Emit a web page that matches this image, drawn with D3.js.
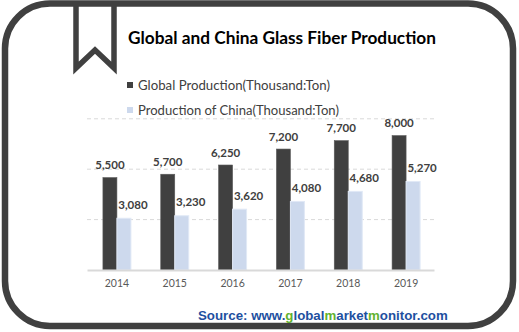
<!DOCTYPE html>
<html>
<head>
<meta charset="utf-8">
<script src="https://cdn.jsdelivr.net/npm/d3@7"></script>
<style>
html,body{margin:0;padding:0;background:#fff;}
svg{display:block;}
</style>
</head>
<body>
<svg id="chart" width="519" height="332"></svg>
<script>
const years = ["2014","2015","2016","2017","2018","2019"];
const globalProduction = [5500, 5700, 6250, 7200, 7700, 8000];
const chinaProduction = [3080, 3230, 3620, 4080, 4680, 5270];
const gridTicks = [3000, 6000, 9000];
const seriesNames = ["Global Production(Thousand:Ton)", "Production of China(Thousand:Ton)"];
const titleText = "Global and China Glass Fiber Production";

const svg = d3.select("#chart");
const dark = "#404040", light = "#cdd9ed";

// scale font size so text spans a target width
function fit(sel, target) {
  const fs = parseFloat(sel.attr("font-size"));
  const w = sel.node().getComputedTextLength();
  if (w > 0) sel.attr("font-size", (fs * target / w).toFixed(2));
  return sel;
}

// frame
svg.append("rect").attr("x",5).attr("y",3.5).attr("width",508).attr("height",322.5)
  .attr("rx",45).attr("ry",45).attr("fill","#fff").attr("stroke",dark).attr("stroke-width",6.5);
// bookmark
svg.append("path").attr("d","M76,3 V68 L95,50 L114,68 V3")
  .attr("fill","none").attr("stroke",dark).attr("stroke-width",5.5).attr("stroke-linejoin","miter");

// title
const title = svg.append("text").attr("x",282).attr("y",44).attr("text-anchor","middle")
  .attr("font-family","Lato").attr("font-weight","bold").attr("font-size",16.5)
  .attr("fill","#000").text(titleText);
fit(title, 308);

// legend
const legendColors = [dark, light];
const legendWidths = [192, 201];
seriesNames.forEach((n,i)=>{
  const yy = 85 + i*25;
  svg.append("rect").attr("x",127).attr("y",yy-3).attr("width",6).attr("height",6).attr("fill",legendColors[i]);
  const t = svg.append("text").attr("x",138).attr("y",yy+4.5).attr("font-family","Lato").attr("font-size",12.5)
    .attr("fill","#404040").text(n);
  fit(t, legendWidths[i]);
});

// scales
const x = d3.scaleBand().domain(years).range([87,434]);
const y = d3.scaleLinear().domain([0,9000]).range([270,118.8]);
const bw = 14;

// gridlines
svg.append("g").selectAll("line").data(gridTicks).join("line")
  .attr("x1",87).attr("x2",434).attr("y1",d=>y(d)).attr("y2",d=>y(d))
  .attr("stroke","#d9d9d9").attr("stroke-width",1).attr("stroke-dasharray","4,3");

// bars
const cx = d => x(d) + x.bandwidth()/2 + 1;
svg.append("g").selectAll("rect").data(years).join("rect")
  .attr("x",(d)=>cx(d)-bw).attr("width",bw)
  .attr("y",(d,i)=>y(globalProduction[i])).attr("height",(d,i)=>y(0)-y(globalProduction[i]))
  .attr("fill",dark).attr("stroke","#5a5a5a").attr("stroke-width",0.6);
svg.append("g").selectAll("rect").data(years).join("rect")
  .attr("x",(d)=>cx(d)).attr("width",bw)
  .attr("y",(d,i)=>y(chinaProduction[i])).attr("height",(d,i)=>y(0)-y(chinaProduction[i]))
  .attr("fill",light).attr("stroke","#e1e9f6").attr("stroke-width",1);

// baseline axis
const axis = d3.axisBottom(x).tickSize(0).tickPadding(10);
const ag = svg.append("g").attr("transform","translate(0,270)").call(axis);
ag.select(".domain").attr("stroke","#d9d9d9").attr("stroke-width",2);
ag.selectAll("text").attr("font-family","Lato").attr("font-size",10.5).attr("fill","#595959")
  .attr("dx",1);

// value labels
const fmt = d3.format(",");
svg.append("g").selectAll("text").data(years).join("text")
  .attr("x",d=>cx(d)-bw/2).attr("y",(d,i)=>y(globalProduction[i])-8.5)
  .attr("text-anchor","middle").attr("font-family","Lato").attr("font-weight","bold")
  .attr("font-size",11.5).attr("fill","#404040").text((d,i)=>fmt(globalProduction[i]));
svg.append("g").selectAll("text").data(years).join("text")
  .attr("x",d=>cx(d)+bw/2+9).attr("y",(d,i)=>y(chinaProduction[i])-9.5)
  .attr("text-anchor","middle").attr("font-family","Lato").attr("font-weight","bold")
  .attr("font-size",11.5).attr("fill","#404040").text((d,i)=>fmt(chinaProduction[i]));

// source
const blue = "#1e50a0", green = "#62b22f";
const src = svg.append("text").attr("x",198).attr("y",319.5)
  .attr("font-family","Liberation Sans, Arial").attr("font-weight","bold").attr("font-size",12.5);
[["Source: www.",blue],["g",green],["lobal",blue],["m",green],["arket",blue],["m",green],["onitor.com",blue]]
  .forEach(([t,c])=>src.append("tspan").attr("fill",c).text(t));
fit(src, 250);
</script>
</body>
</html>
